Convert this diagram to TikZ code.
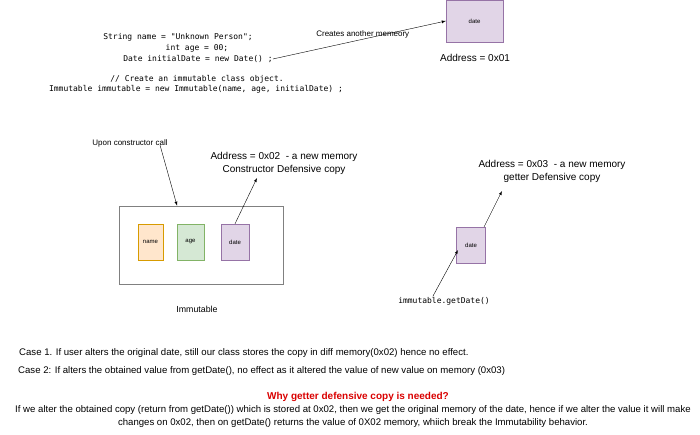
\documentclass[tikz,border=0pt]{standalone}
\usepackage{fontspec}
\setmainfont{Liberation Sans}
\setmonofont{DejaVu Sans Mono}
\begin{document}
\begin{tikzpicture}[x=1pt,y=-1pt,
  code/.style={font=\ttfamily\fontsize{8}{9}\selectfont,inner sep=0},
  lbl/.style={font=\fontsize{8}{9}\selectfont,inner sep=0},
  body/.style={font=\fontsize{9.6}{13}\selectfont,inner sep=0},
  addr/.style={font=\fontsize{10}{13}\selectfont,align=center,inner sep=0},
  fld/.style={draw,minimum width=#1,font=\fontsize{6}{7}\selectfont,inner sep=0},
  purp/.style={fld=28pt,fill={rgb,255:red,225;green,213;blue,231},draw={rgb,255:red,150;green,115;blue,166},minimum height=36pt},
  arr/.style={-latex,thin}]
\useasboundingbox (0,0) rectangle (700,434);
\node[code] (c1) at (178,37) {String name = "Unknown Person";};
\node[code] (c2) at (197,48) {int age = 00;};
\node[code] (c3) at (198,59) {Date initialDate = new Date() ;};
\node[code] (c4) at (197,79) {// Create an immutable class object.};
\node[code] (c5) at (196,89) {Immutable immutable = new Immutable(name, age, initialDate) ;};
\node[purp,minimum width=57pt,minimum height=42pt] (d1) at (474.5,21) {date};
\node[addr] (a1) at (475,58) {Address = 0x01};
\draw[arr] (c3.east) -- node[lbl,pos=0.52,above=1pt] {Creates another memeory} (d1.west);
\node[lbl] (up) at (130,143) {Upon constructor call};
\node[draw=gray,thick,minimum width=164pt,minimum height=78pt] (imm) at (201,245) {};
\node[fld=25pt,minimum height=36pt,fill={rgb,255:red,255;green,230;blue,204},draw={rgb,255:red,215;green,155;blue,0}] (nm) at (150.5,242) {name};
\node[fld=27pt,minimum height=36pt,fill={rgb,255:red,213;green,232;blue,212},draw={rgb,255:red,130;green,179;blue,102}] (ag) at (190.5,242) {age};
\node[purp] (d2) at (235,242) {date};
\node[lbl,font=\fontsize{8.8}{10}\selectfont] (imml) at (197,309) {Immutable};
\node[addr] (a2) at (284,163) {Address = 0x02 \ - a new memory\\Constructor Defensive copy};
\draw[arr] (160,145) -- (imm.north -| 177,0);
\draw[arr] (d2.north) -- (257,178);
\node[purp,minimum width=29pt] (d3) at (471,245) {date};
\node[addr] (a3) at (552,171) {Address = 0x03 \ - a new memory\\getter Defensive copy};
\node[code] (gd) at (444,301) {immutable.getDate()};
\draw[arr] (433,296) -- (458,250);
\draw[arr] (484,227) -- (502,191);
\node[body,anchor=west] (k1) at (19,353) {Case 1. If user alters the original date, still our class stores the copy in diff memory(0x02) hence no effect.};
\node[body,anchor=west] (k2) at (18,371) {Case 2: If alters the obtained value from getDate(), no effect as it altered the value of new value on memory (0x03)};
\node[body,font=\bfseries\fontsize{10}{12}\selectfont,text=red!85!black] (why) at (358,397) {Why getter defensive copy is needed?};
\node[body,align=center] (para) at (353,416.5) {If we alter the obtained copy (return from getDate()) which is stored at 0x02, then we get the original memory of the date, hence if we alter the value it will make\\changes on 0x02, then on getDate() returns the value of 0X02 memory, whiich break the Immutability behavior.};
\end{tikzpicture}
\end{document}
